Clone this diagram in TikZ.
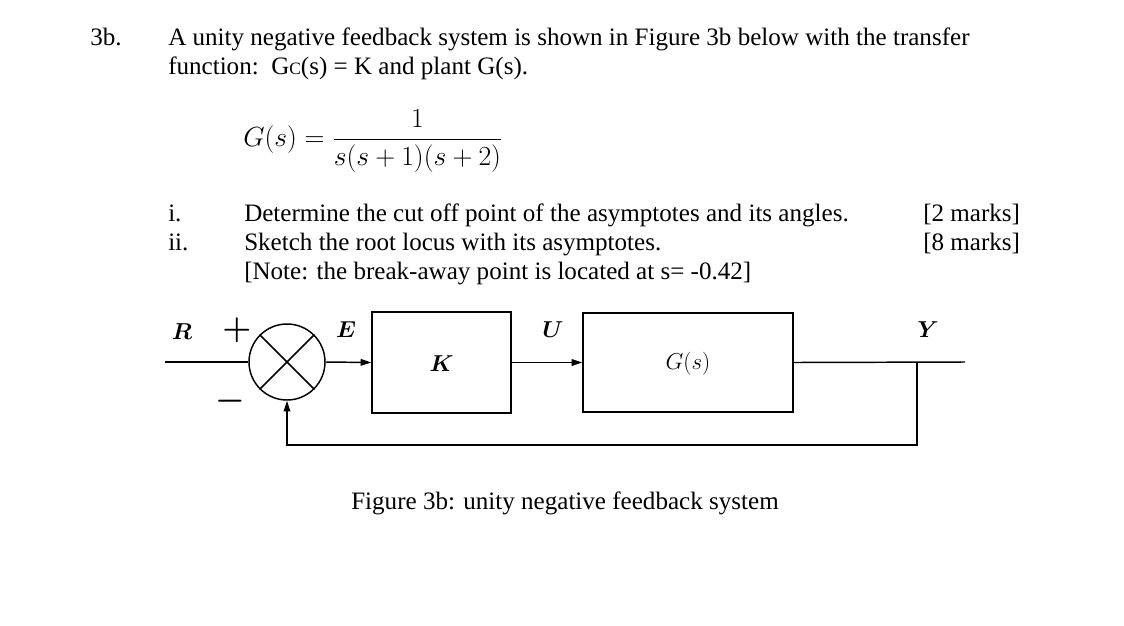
\documentclass[tikz,border=0pt]{standalone}
\usepackage{amsmath}
\usepackage{fontspec}
\setmainfont{Liberation Serif}
\usetikzlibrary{arrows.meta}
\begin{document}
\begin{tikzpicture}[x=0.75pt,y=-0.75pt,
  txt/.style={anchor=base west,inner sep=0pt,font=\fontsize{18.8}{22}\selectfont},
  lbl/.style={inner sep=0pt,font=\fontsize{16}{18}\selectfont\boldmath},
  blk/.style={draw,line width=1.1pt},
  ln/.style={line width=1.1pt},
  arr/.style={ln,-{Triangle[length=8pt,width=5pt]}}]
\useasboundingbox[fill=white] (0,0) rectangle (1124,625);
\node[txt] (num) at (90,45) {3b.};
\node[txt] (l1) at (168,45) {A unity negative feedback system is shown in Figure 3b below with the transfer};
\node[txt] (l2) at (168,74) {function:\ \ G{\fontsize{13}{14}\selectfont C}(s) = K and plant G(s).};
\node[inner sep=0pt,anchor=west,font=\fontsize{20}{24}\selectfont] (eq) at (243,141) {$G(s)=\dfrac{1}{s(s+1)(s+2)}$};
\node[txt] (i) at (168,221) {i.};
\node[txt] (ii) at (168,250) {ii.};
\node[txt] (q1) at (244,221) {Determine the cut off point of the asymptotes and its angles.};
\node[txt] (q2) at (244,250) {Sketch the root locus with its asymptotes.};
\node[txt] (q3) at (244,279) {[Note: the break-away point is located at s= -0.42]};
\node[txt] (m1) at (923,221) {[2 marks]};
\node[txt] (m2) at (923,250) {[8 marks]};
% diagram
\coordinate (in) at (165,362);
\node[draw,circle,line width=1.1pt,minimum size=76*0.75pt,inner sep=0pt] (sum) at (287,362) {};
\draw[ln] (sum.45) -- (sum.225) (sum.135) -- (sum.315);
\node[blk,minimum width=139*0.75pt,minimum height=101*0.75pt] (K) at (441.5,362.5) {};
\node[lbl] (Kt) at (441.5,364) {$K$};
\node[blk,minimum width=210*0.75pt,minimum height=99*0.75pt] (G) at (688,362.5) {};
\node[lbl,font=\fontsize{17}{18}\selectfont] (Gt) at (688,364) {$G(s)$};
\coordinate (out) at (965,362);
\coordinate (br) at (917,362);
\coordinate (fb1) at (917,445);
\coordinate (fb2) at (287,445);
\draw[ln] (in) -- (sum.west);
\draw[arr] (sum.east) -- (K.west);
\draw[arr] (K.east) -- (G.west);
\draw[ln] (G.east) -- (out);
\draw[arr] (br) -- (fb1) -- (fb2) -- (sum.south);
\node[lbl] (R) at (182,332) {$R$};
\node[lbl,font=\fontsize{24}{24}\selectfont\boldmath] (plus) at (237,330) {$+$};
\node[lbl,font=\fontsize{24}{24}\selectfont\boldmath] (minus) at (230,401) {$-$};
\node[lbl] (E) at (346,330) {$E$};
\node[lbl] (U) at (553,330) {$U$};
\node[lbl] (Y) at (928,330) {$Y$};
\node[inner sep=0pt,font=\fontsize{18.8}{22}\selectfont] (cap) at (565,503) {Figure 3b: unity negative feedback system};
\end{tikzpicture}
\end{document}
